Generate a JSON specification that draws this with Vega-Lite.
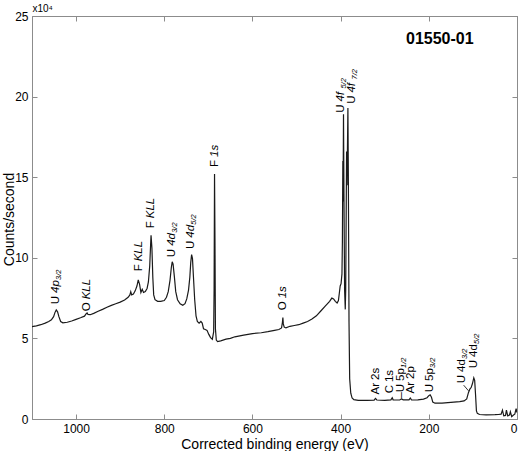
{
  "$schema": "https://vega.github.io/schema/vega-lite/v6.json",
  "width": 485,
  "height": 403,
  "autosize": {"type": "none"},
  "padding": {"left": 32, "top": 16, "right": 3, "bottom": 32},
  "background": "white",
  "datasets": {
    "spectrum": [
      {"ev": 1100, "c": 57300}, {"ev": 1090, "c": 57800}, {"ev": 1080, "c": 58500}, {"ev": 1070, "c": 59500},
      {"ev": 1062, "c": 60500}, {"ev": 1056, "c": 61500}, {"ev": 1051, "c": 63500}, {"ev": 1048, "c": 66000},
      {"ev": 1045, "c": 67700}, {"ev": 1042, "c": 66500}, {"ev": 1039, "c": 63500}, {"ev": 1035, "c": 60500},
      {"ev": 1030, "c": 59700}, {"ev": 1020, "c": 60000}, {"ev": 1010, "c": 60800}, {"ev": 1000, "c": 61800},
      {"ev": 990, "c": 62800}, {"ev": 981, "c": 63800}, {"ev": 977, "c": 65300}, {"ev": 975, "c": 65800},
      {"ev": 973, "c": 64800}, {"ev": 968, "c": 64700}, {"ev": 960, "c": 65500}, {"ev": 950, "c": 66800},
      {"ev": 940, "c": 68000}, {"ev": 930, "c": 69300}, {"ev": 920, "c": 70500}, {"ev": 910, "c": 71500},
      {"ev": 900, "c": 72500}, {"ev": 890, "c": 73800}, {"ev": 882, "c": 75500}, {"ev": 878, "c": 77000},
      {"ev": 876, "c": 79000}, {"ev": 874, "c": 77000}, {"ev": 870, "c": 77500}, {"ev": 866, "c": 79500},
      {"ev": 862, "c": 82500}, {"ev": 859, "c": 86300}, {"ev": 856, "c": 83500}, {"ev": 853, "c": 78500},
      {"ev": 850, "c": 80500}, {"ev": 847, "c": 78500}, {"ev": 843, "c": 79000}, {"ev": 839, "c": 81000},
      {"ev": 836, "c": 85000}, {"ev": 833, "c": 95000}, {"ev": 831, "c": 108000}, {"ev": 830, "c": 114000},
      {"ev": 828, "c": 106000}, {"ev": 826, "c": 88000}, {"ev": 824, "c": 77000}, {"ev": 821, "c": 74000},
      {"ev": 815, "c": 73000}, {"ev": 808, "c": 73000}, {"ev": 800, "c": 73500}, {"ev": 795, "c": 75500},
      {"ev": 791, "c": 79000}, {"ev": 787, "c": 86000}, {"ev": 784, "c": 94000}, {"ev": 782, "c": 97500},
      {"ev": 780, "c": 96000}, {"ev": 777, "c": 88000}, {"ev": 774, "c": 79000}, {"ev": 770, "c": 74000},
      {"ev": 764, "c": 71500}, {"ev": 758, "c": 70500}, {"ev": 753, "c": 71500}, {"ev": 749, "c": 74500},
      {"ev": 745, "c": 80000}, {"ev": 742, "c": 88000}, {"ev": 740, "c": 97000}, {"ev": 738, "c": 102000},
      {"ev": 736, "c": 99500}, {"ev": 734, "c": 89000}, {"ev": 731, "c": 74000}, {"ev": 728, "c": 64000},
      {"ev": 725, "c": 60500}, {"ev": 721, "c": 59500}, {"ev": 717, "c": 60500}, {"ev": 714, "c": 59500},
      {"ev": 711, "c": 56000}, {"ev": 707, "c": 55500}, {"ev": 703, "c": 55000}, {"ev": 699, "c": 52500},
      {"ev": 695, "c": 50500}, {"ev": 691, "c": 49500}, {"ev": 688, "c": 54000}, {"ev": 687, "c": 80000},
      {"ev": 686, "c": 152000}, {"ev": 685, "c": 110000}, {"ev": 684, "c": 56000}, {"ev": 682, "c": 49000},
      {"ev": 679, "c": 48000}, {"ev": 672, "c": 48500}, {"ev": 660, "c": 49500}, {"ev": 650, "c": 50000},
      {"ev": 640, "c": 51000}, {"ev": 620, "c": 52000}, {"ev": 600, "c": 53000}, {"ev": 580, "c": 53500},
      {"ev": 565, "c": 54200}, {"ev": 550, "c": 55000}, {"ev": 540, "c": 55500}, {"ev": 534, "c": 56500},
      {"ev": 532, "c": 60000}, {"ev": 531, "c": 63000}, {"ev": 530, "c": 59000}, {"ev": 528, "c": 57000},
      {"ev": 524, "c": 56500}, {"ev": 515, "c": 57500}, {"ev": 505, "c": 58000}, {"ev": 495, "c": 58500},
      {"ev": 485, "c": 59500}, {"ev": 475, "c": 60500}, {"ev": 465, "c": 62000}, {"ev": 455, "c": 64000},
      {"ev": 445, "c": 67000}, {"ev": 435, "c": 70000}, {"ev": 425, "c": 73000}, {"ev": 420, "c": 75000},
      {"ev": 416, "c": 74500}, {"ev": 412, "c": 73000}, {"ev": 408, "c": 72000}, {"ev": 405, "c": 73500},
      {"ev": 403, "c": 78000}, {"ev": 401, "c": 82500}, {"ev": 399, "c": 84000}, {"ev": 397, "c": 90000},
      {"ev": 396, "c": 110000}, {"ev": 395, "c": 160000}, {"ev": 394.5, "c": 135000}, {"ev": 393.5, "c": 189000},
      {"ev": 392.5, "c": 140000}, {"ev": 391, "c": 80000}, {"ev": 389.5, "c": 68000}, {"ev": 388.5, "c": 80000},
      {"ev": 386.5, "c": 166000}, {"ev": 385.5, "c": 145000}, {"ev": 383.5, "c": 193000}, {"ev": 382.5, "c": 150000},
      {"ev": 381, "c": 60000}, {"ev": 379.5, "c": 25000}, {"ev": 377, "c": 16000}, {"ev": 374, "c": 13000},
      {"ev": 370, "c": 12000}, {"ev": 360, "c": 11600}, {"ev": 340, "c": 11500}, {"ev": 324, "c": 11700},
      {"ev": 321, "c": 12800}, {"ev": 318, "c": 11800}, {"ev": 300, "c": 11600}, {"ev": 286, "c": 11900},
      {"ev": 283, "c": 13200}, {"ev": 281, "c": 11900}, {"ev": 266, "c": 11800}, {"ev": 262, "c": 12500},
      {"ev": 258, "c": 11900}, {"ev": 245, "c": 11900}, {"ev": 242, "c": 13000}, {"ev": 239, "c": 11800},
      {"ev": 225, "c": 11900}, {"ev": 212, "c": 12300}, {"ev": 204, "c": 13200}, {"ev": 200, "c": 14500},
      {"ev": 197, "c": 15000}, {"ev": 194, "c": 13500}, {"ev": 191, "c": 10500}, {"ev": 186, "c": 9800},
      {"ev": 170, "c": 9900}, {"ev": 150, "c": 10300}, {"ev": 130, "c": 10800}, {"ev": 120, "c": 11200},
      {"ev": 114, "c": 12500}, {"ev": 110, "c": 16500}, {"ev": 107, "c": 18500}, {"ev": 104, "c": 19500},
      {"ev": 101, "c": 22000}, {"ev": 98, "c": 25500}, {"ev": 96, "c": 24000}, {"ev": 94, "c": 15000},
      {"ev": 92, "c": 5000}, {"ev": 90, "c": 3500}, {"ev": 85, "c": 2800}, {"ev": 70, "c": 2600},
      {"ev": 50, "c": 2700}, {"ev": 42, "c": 2800}, {"ev": 36, "c": 3000}, {"ev": 33, "c": 5500},
      {"ev": 30, "c": 2000}, {"ev": 26, "c": 2200}, {"ev": 24, "c": 5500}, {"ev": 21, "c": 2000},
      {"ev": 17, "c": 2500}, {"ev": 15, "c": 4500}, {"ev": 12, "c": 1500}, {"ev": 8, "c": 2500},
      {"ev": 5, "c": 3000}, {"ev": 2, "c": 6500}, {"ev": 0, "c": 4000}
    ],
    "labels": [
      {"ev": 1045, "c": 77300, "el": "U", "orb": "4p", "sub": "3/2"},
      {"ev": 975, "c": 73300, "el": "O", "orb": "KLL", "sub": ""},
      {"ev": 857, "c": 96900, "el": "F", "orb": "KLL", "sub": ""},
      {"ev": 830, "c": 123600, "el": "F", "orb": "KLL", "sub": ""},
      {"ev": 782, "c": 106500, "el": "U", "orb": "4d", "sub": "3/2"},
      {"ev": 739, "c": 111500, "el": "U", "orb": "4d", "sub": "5/2"},
      {"ev": 686, "c": 161600, "el": "F", "orb": "1s", "sub": ""},
      {"ev": 530, "c": 73900, "el": "O", "orb": "1s", "sub": ""},
      {"ev": 400, "c": 196000, "el": "U", "orb": "4f", "sub": "5/2"},
      {"ev": 375, "c": 201600, "el": "U", "orb": "4f", "sub": "7/2"},
      {"ev": 320, "c": 23300, "el": "Ar", "orb": "2s", "sub": ""},
      {"ev": 288, "c": 22000, "el": "C", "orb": "1s", "sub": ""},
      {"ev": 264, "c": 22700, "el": "–U", "orb": "5p", "sub": "1/2"},
      {"ev": 241, "c": 23900, "el": "Ar", "orb": "2p", "sub": ""},
      {"ev": 198, "c": 22700, "el": "U", "orb": "5p", "sub": "3/2"},
      {"ev": 125, "c": 28300, "el": "U", "orb": "4d", "sub": "3/2"},
      {"ev": 98, "c": 37600, "el": "U", "orb": "4d", "sub": "5/2"}
    ],
    "arrow": [
      {"ev": 121, "c": 21000, "ev2": 110, "c2": 17500}
    ],
    "notes": [
      {"ev": 175, "c": 236000, "text": "01550-01", "kind": "sample"},
      {"ev": 1099, "c": 254500, "text": "x10⁴", "kind": "exponent"}
    ]
  },
  "layer": [
    {
      "data": {"name": "spectrum"},
      "mark": {"type": "line", "color": "#1a1a1a", "strokeWidth": 1.2, "clip": true},
      "encoding": {
        "x": {"field": "ev", "type": "quantitative", "title": "Corrected binding energy (eV)",
              "scale": {"domain": [0, 1100], "reverse": true, "nice": false},
              "axis": {"values": [0, 200, 400, 600, 800, 1000], "format": "d", "orient": "bottom", "titlePadding": 3}},
        "y": {"field": "c", "type": "quantitative", "title": "Counts/second",
              "scale": {"domain": [0, 250000], "nice": false},
              "axis": {"values": [0, 50000, 100000, 150000, 200000, 250000], "orient": "left",
                       "labelExpr": "format(datum.value / 10000, 'd')",
                       "titleX": -23, "titleY": 203, "titleAlign": "center", "titleBaseline": "middle", "titleAngle": 270}}
      }
    },
    {
      "data": {"name": "spectrum"},
      "mark": {"type": "line", "opacity": 0},
      "encoding": {
        "x": {"field": "ev", "type": "quantitative",
              "scale": {"domain": [0, 1100], "reverse": true, "nice": false},
              "axis": {"values": [0, 200, 400, 600, 800, 1000], "orient": "top", "labels": false, "title": null}},
        "y": {"field": "c", "type": "quantitative",
              "scale": {"domain": [0, 250000], "nice": false},
              "axis": {"values": [0, 50000, 100000, 150000, 200000, 250000], "orient": "right", "labels": false, "title": null}}
      }
    },
    {
      "data": {"name": "labels"},
      "mark": {"type": "text", "angle": 270, "align": "right", "baseline": "middle", "dx": -1.5, "fontSize": 11.5, "color": "#000"},
      "encoding": {
        "x": {"field": "ev", "type": "quantitative", "scale": {"domain": [0, 1100], "reverse": true, "nice": false}, "axis": null},
        "y": {"field": "c", "type": "quantitative", "scale": {"domain": [0, 250000], "nice": false}, "axis": null},
        "text": {"field": "el"}
      }
    },
    {
      "data": {"name": "labels"},
      "transform": [{"filter": "datum.ev > 350"}],
      "mark": {"type": "text", "angle": 270, "align": "left", "baseline": "middle", "dx": 1.5, "fontSize": 11.5, "fontStyle": "italic", "color": "#000"},
      "encoding": {
        "x": {"field": "ev", "type": "quantitative", "scale": {"domain": [0, 1100], "reverse": true, "nice": false}, "axis": null},
        "y": {"field": "c", "type": "quantitative", "scale": {"domain": [0, 250000], "nice": false}, "axis": null},
        "text": {"field": "orb"}
      }
    },
    {
      "data": {"name": "labels"},
      "transform": [{"filter": "datum.ev <= 350"}],
      "mark": {"type": "text", "angle": 270, "align": "left", "baseline": "middle", "dx": 1.5, "fontSize": 11.5, "color": "#000"},
      "encoding": {
        "x": {"field": "ev", "type": "quantitative", "scale": {"domain": [0, 1100], "reverse": true, "nice": false}, "axis": null},
        "y": {"field": "c", "type": "quantitative", "scale": {"domain": [0, 250000], "nice": false}, "axis": null},
        "text": {"field": "orb"}
      }
    },
    {
      "data": {"name": "labels"},
      "mark": {"type": "text", "angle": 270, "align": "left", "baseline": "middle", "dx": 14.5, "dy": 3, "fontSize": 7.5, "fontStyle": "italic", "color": "#000"},
      "encoding": {
        "x": {"field": "ev", "type": "quantitative", "scale": {"domain": [0, 1100], "reverse": true, "nice": false}, "axis": null},
        "y": {"field": "c", "type": "quantitative", "scale": {"domain": [0, 250000], "nice": false}, "axis": null},
        "text": {"field": "sub"}
      }
    },
    {
      "data": {"name": "arrow"},
      "mark": {"type": "rule", "color": "#000", "strokeWidth": 0.8},
      "encoding": {
        "x": {"field": "ev", "type": "quantitative", "scale": {"domain": [0, 1100], "reverse": true, "nice": false}, "axis": null},
        "y": {"field": "c", "type": "quantitative", "scale": {"domain": [0, 250000], "nice": false}, "axis": null},
        "x2": {"field": "ev2"},
        "y2": {"field": "c2"}
      }
    },
    {
      "data": {"name": "notes"},
      "transform": [{"filter": "datum.kind == 'sample'"}],
      "mark": {"type": "text", "fontSize": 16, "fontWeight": "bold", "color": "#000", "align": "center", "baseline": "middle"},
      "encoding": {
        "x": {"field": "ev", "type": "quantitative", "scale": {"domain": [0, 1100], "reverse": true, "nice": false}, "axis": null},
        "y": {"field": "c", "type": "quantitative", "scale": {"domain": [0, 250000], "nice": false}, "axis": null},
        "text": {"field": "text"}
      }
    },
    {
      "data": {"name": "notes"},
      "transform": [{"filter": "datum.kind == 'exponent'"}],
      "mark": {"type": "text", "fontSize": 10, "color": "#000", "align": "left", "baseline": "middle"},
      "encoding": {
        "x": {"field": "ev", "type": "quantitative", "scale": {"domain": [0, 1100], "reverse": true, "nice": false}, "axis": null},
        "y": {"field": "c", "type": "quantitative", "scale": {"domain": [0, 250000], "nice": false}, "axis": null},
        "text": {"field": "text"}
      }
    }
  ],
  "resolve": {"axis": {"x": "independent", "y": "independent"}},
  "config": {
    "font": "Liberation Sans",
    "view": {"stroke": "#8c8c8c", "strokeWidth": 1},
    "axis": {
      "grid": false,
      "domainColor": "#8c8c8c",
      "tickColor": "#8c8c8c",
      "tickSize": -5,
      "labelPadding": 9,
      "labelColor": "#000",
      "labelFontSize": 12,
      "titleColor": "#000",
      "titleFontSize": 14,
      "titleFontWeight": "normal"
    }
  }
}
